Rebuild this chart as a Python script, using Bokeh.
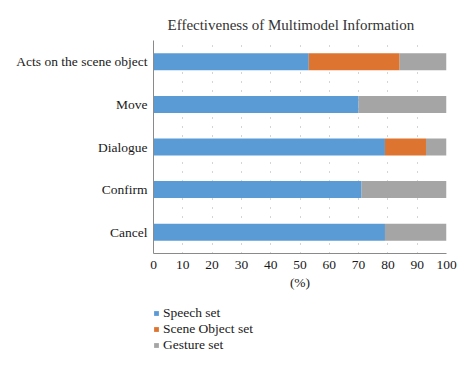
from bokeh.plotting import figure
from bokeh.models import ColumnDataSource, Legend, LegendItem, FixedTicker
from bokeh.layouts import column
from bokeh.embed import file_html
from bokeh.resources import INLINE

categories = ["Acts on the scene object", "Move", "Dialogue", "Confirm", "Cancel"]
speech = [53, 70, 79, 71, 79]
scene_object = [31, 0, 14, 0, 0]
gesture = [16, 30, 7, 29, 21]
series = ["Speech set", "Scene Object set", "Gesture set"]
colors = ["#5B9BD5", "#DD7530", "#A5A5A5"]
x_ticks = [0, 10, 20, 30, 40, 50, 60, 70, 80, 90, 100]

FONT = "Liberation Serif"

src = ColumnDataSource(dict(cat=categories, s=speech, o=scene_object, g=gesture))

p = figure(y_range=list(reversed(categories)), x_range=(0, 100),
           width=466, height=295, output_backend="svg", toolbar_location=None,
           min_border_left=153, min_border_right=20, min_border_top=40, min_border_bottom=42)

p.title.text = "Effectiveness of Multimodel Information"
p.title.align = "left"
p.title.offset = 14
p.title.standoff = 16
p.title.text_font = FONT
p.title.text_font_size = "15px"
p.title.text_font_style = "normal"
p.title.text_color = "#333333"

r = p.hbar_stack(["s", "o", "g"], y="cat", height=0.4, color=colors, source=src, line_width=0)

p.outline_line_color = None
p.ygrid.grid_line_color = None
p.xgrid.grid_line_color = "#aaaaaa"
p.xgrid.grid_line_dash = "1 8"
p.xgrid.grid_line_width = 1
p.xaxis.ticker = FixedTicker(ticks=x_ticks)
p.xaxis.axis_label = "(%)"
p.xaxis.axis_label_text_font = FONT
p.xaxis.axis_label_text_font_style = "normal"
p.xaxis.axis_label_text_font_size = "13.5px"
p.xaxis.axis_label_text_color = "#222222"
p.xaxis.axis_label_standoff = 3
for ax in (p.xaxis, p.yaxis):
    ax.major_label_text_font = FONT
    ax.major_label_text_font_size = "13.5px"
    ax.major_label_text_color = "#1a1a1a"
    ax.major_tick_line_color = None
    ax.minor_tick_line_color = None
    ax.major_tick_out = 0
    ax.major_tick_in = 0
    ax.axis_line_color = "#8a8a8a"
    ax.axis_line_width = 1
p.xaxis.major_label_standoff = 7
p.yaxis.major_label_standoff = 6
p.y_range.range_padding = 0

# legend in a separate strip below the chart
lg = figure(width=466, height=62, output_backend="svg", toolbar_location=None,
            min_border=0, min_border_left=153, min_border_top=10,
            x_range=(0, 1), y_range=(0, 1))
lg.axis.visible = False
lg.grid.visible = False
lg.outline_line_color = None
dummies = [lg.hbar(y=[-10], right=[1], height=0.1, color=c, line_width=0) for c in colors]
legend = Legend(items=[LegendItem(label=series[i], renderers=[dummies[i]]) for i in range(3)],
                orientation="vertical", location="top_left",
                label_text_font=FONT, label_text_font_size="13.5px", label_text_color="#1a1a1a",
                glyph_width=6, glyph_height=6, label_height=12, spacing=0,
                padding=0, margin=0, border_line_color=None, background_fill_alpha=0,
                label_standoff=4)
lg.add_layout(legend, "center")

layout = column(p, lg, spacing=0)
open("out.html", "w").write(file_html(layout, INLINE))
